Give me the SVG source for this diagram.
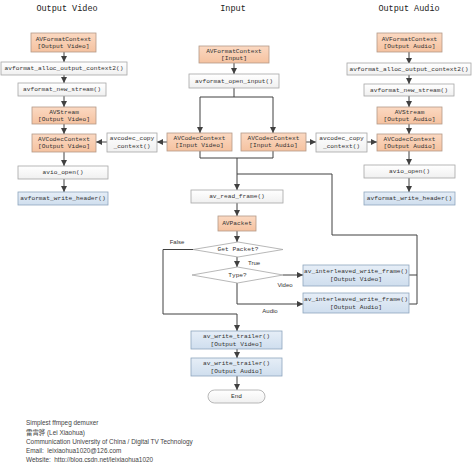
<svg xmlns="http://www.w3.org/2000/svg" width="474" height="462" viewBox="0 0 474 462">
<defs>
<marker id="ah" markerUnits="userSpaceOnUse" markerWidth="6" markerHeight="6" viewBox="0 0 6 6" refX="6" refY="3" orient="auto">
<path d="M0,0 L6,3 L0,6 z" fill="#404040"/>
</marker>
<linearGradient id="gO" x1="0" y1="0" x2="0" y2="1"><stop offset="0" stop-color="#fbd9c2"/><stop offset="1" stop-color="#f5c2a0"/></linearGradient>
<linearGradient id="gW" x1="0" y1="0" x2="0" y2="1"><stop offset="0" stop-color="#ffffff"/><stop offset="1" stop-color="#f0f0f0"/></linearGradient>
<linearGradient id="gB" x1="0" y1="0" x2="0" y2="1"><stop offset="0" stop-color="#e6eef7"/><stop offset="1" stop-color="#cfdeee"/></linearGradient>
</defs>
<style>
.o{fill:url(#gO);stroke:#b39a88;stroke-width:0.8}
.w{fill:url(#gW);stroke:#a6a6a6;stroke-width:0.8}
.b{fill:url(#gB);stroke:#8ea5bd;stroke-width:0.8}
.t{font-family:"Liberation Mono",monospace;font-size:6.2px;fill:#333;text-anchor:middle;dominant-baseline:central}
.h{font-family:"Liberation Mono",monospace;font-size:8.5px;fill:#222;text-anchor:middle}
.l{font-family:"Liberation Sans",sans-serif;font-size:6px;fill:#333;text-anchor:middle}
.f{font-family:"Liberation Sans","Noto Sans CJK SC",sans-serif;font-size:6.4px;fill:#444;white-space:pre}
.c{fill:none;stroke:#404040;stroke-width:1}
.a{fill:none;stroke:#404040;stroke-width:1;marker-end:url(#ah)}
</style>
<rect width="474" height="462" fill="#ffffff"/>
<g id="titles">
<text class="h" x="67" y="11">Output Video</text>
<text class="h" x="233" y="11">Input</text>
<text class="h" x="409" y="11">Output Audio</text>
</g>
<g id="connectors">
<path class="a" d="M64,52 V62"/>
<path class="a" d="M64,75 V83"/>
<path class="a" d="M64,96 V107"/>
<path class="a" d="M64,124 V134"/>
<path class="a" d="M64,152 V166"/>
<path class="a" d="M64,179 V192"/>
<path class="a" d="M409,52 V64"/>
<path class="a" d="M409,75 V84"/>
<path class="a" d="M409,96 V107"/>
<path class="a" d="M409,124 V134"/>
<path class="a" d="M409,151 V165"/>
<path class="a" d="M409,178 V192"/>
<path class="a" d="M234,63 V74"/>
<path class="c" d="M234,88 V97 M200,97 H273"/>
<path class="a" d="M200,97 V133"/>
<path class="a" d="M273,97 V133"/>
<path class="a" d="M167,142 H157"/>
<path class="a" d="M107,142 H96"/>
<path class="a" d="M306,142 H316"/>
<path class="a" d="M367,142 H377"/>
<path class="c" d="M200,151 V158 H273 V151"/>
<path class="a" d="M237,158 V190"/>
<path class="a" d="M237,203 V216"/>
<path class="a" d="M237,231 V242"/>
<path class="a" d="M237,257 V267"/>
<path class="a" d="M283,275 H303"/>
<path class="a" d="M237,283 V304 H303"/>
<path class="c" d="M409,275 H417 M409,304 H417 V235 H332 V174 H237"/>
<path class="a" d="M193,249.5 H163 V314 H237 V331"/>
<path class="a" d="M237,349 V358"/>
<path class="a" d="M237,376 V390"/>
</g>
<g id="n_fmt_ov"><rect class="o" x="31" y="33" width="65" height="19"/><text class="t" x="63.5" y="39">AVFormatContext</text><text class="t" x="63.5" y="46.5">[Output Video]</text></g>
<g id="n_alloc_ov"><rect class="w" x="1" y="62" width="126" height="13"/><text class="t" x="64" y="68.5">avformat_alloc_output_context2()</text></g>
<g id="n_new_ov"><rect class="w" x="18" y="83" width="88" height="13"/><text class="t" x="62" y="89.5">avformat_new_stream()</text></g>
<g id="n_stream_ov"><rect class="o" x="32" y="107" width="64" height="17"/><text class="t" x="64" y="112">AVStream</text><text class="t" x="64" y="119.5">[Output Video]</text></g>
<g id="n_codec_ov"><rect class="o" x="32" y="134" width="64" height="18"/><text class="t" x="64" y="139">AVCodecContext</text><text class="t" x="64" y="146.5">[Output Video]</text></g>
<g id="n_copy_v"><rect class="w" x="107" y="133" width="50" height="19"/><text class="t" x="132" y="138.5">avcodec_copy</text><text class="t" x="132" y="146.5">_context()</text></g>
<g id="n_avio_ov"><rect class="w" x="18" y="166" width="90" height="13"/><text class="t" x="63" y="172.5">avio_open()</text></g>
<g id="n_hdr_ov"><rect class="b" x="18" y="192" width="90" height="13"/><text class="t" x="63" y="198.5">avformat_write_header()</text></g>
<g id="n_fmt_in"><rect class="o" x="199" y="46" width="70" height="17"/><text class="t" x="234" y="51">AVFormatContext</text><text class="t" x="234" y="58.5">[Input]</text></g>
<g id="n_open_in"><rect class="w" x="189" y="74" width="90" height="14"/><text class="t" x="234" y="81">avformat_open_input()</text></g>
<g id="n_codec_iv"><rect class="o" x="167" y="133" width="65" height="18"/><text class="t" x="199.5" y="138">AVCodecContext</text><text class="t" x="199.5" y="145.5">[Input Video]</text></g>
<g id="n_codec_ia"><rect class="o" x="241" y="133" width="65" height="18"/><text class="t" x="273.5" y="138">AVCodecContext</text><text class="t" x="273.5" y="145.5">[Input Audio]</text></g>
<g id="n_fmt_oa"><rect class="o" x="377" y="33" width="65" height="19"/><text class="t" x="409.5" y="39">AVFormatContext</text><text class="t" x="409.5" y="46.5">[Output Audio]</text></g>
<g id="n_alloc_oa"><rect class="w" x="347" y="63" width="124" height="12"/><text class="t" x="409" y="69">avformat_alloc_output_context2()</text></g>
<g id="n_new_oa"><rect class="w" x="364" y="84" width="90" height="12"/><text class="t" x="409" y="90">avformat_new_stream()</text></g>
<g id="n_stream_oa"><rect class="o" x="377" y="107" width="65" height="17"/><text class="t" x="409.5" y="112">AVStream</text><text class="t" x="409.5" y="119.5">[Output Audio]</text></g>
<g id="n_codec_oa"><rect class="o" x="377" y="134" width="65" height="17"/><text class="t" x="409.5" y="139">AVCodecContext</text><text class="t" x="409.5" y="146.5">[Output Audio]</text></g>
<g id="n_copy_a"><rect class="w" x="316" y="133" width="51" height="19"/><text class="t" x="341.5" y="138.5">avcodec_copy</text><text class="t" x="341.5" y="146.5">_context()</text></g>
<g id="n_avio_oa"><rect class="w" x="364" y="165" width="91" height="13"/><text class="t" x="409.5" y="171.5">avio_open()</text></g>
<g id="n_hdr_oa"><rect class="b" x="364" y="192" width="91" height="13"/><text class="t" x="409.5" y="198.5">avformat_write_header()</text></g>
<g id="n_read"><rect class="w" x="191" y="190" width="92" height="13"/><text class="t" x="237" y="196.5">av_read_frame()</text></g>
<g id="n_packet"><rect class="o" x="218" y="216" width="38" height="15"/><text class="t" x="237" y="223.5">AVPacket</text></g>
<g id="n_get"><path d="M193,249.5 L238,242 L283,249.5 L238,257 z" fill="#ffffff" stroke="#a6a6a6" stroke-width="0.8"/><text class="t" x="238" y="249.5">Get Packet?</text></g>
<g id="n_type"><path d="M192,275 L237.5,267 L283,275 L237.5,283 z" fill="#ffffff" stroke="#a6a6a6" stroke-width="0.8"/><text class="t" x="237.5" y="275">Type?</text></g>
<g id="n_iw_v"><rect class="b" x="303" y="265" width="106" height="21"/><text class="t" x="356" y="271">av_interleaved_write_frame()</text><text class="t" x="356" y="279.5">[Output Video]</text></g>
<g id="n_iw_a"><rect class="b" x="303" y="293" width="106" height="20"/><text class="t" x="356" y="299">av_interleaved_write_frame()</text><text class="t" x="356" y="307.5">[Output Audio]</text></g>
<g id="n_tr_v"><rect class="b" x="191" y="331" width="91" height="18"/><text class="t" x="236.5" y="336">av_write_trailer()</text><text class="t" x="236.5" y="344">[Output Video]</text></g>
<g id="n_tr_a"><rect class="b" x="191" y="358" width="91" height="18"/><text class="t" x="236.5" y="363">av_write_trailer()</text><text class="t" x="236.5" y="371">[Output Audio]</text></g>
<g id="n_end"><rect x="208" y="390" width="57" height="13" rx="6.5" fill="url(#gW)" stroke="#a6a6a6" stroke-width="0.8"/><text class="t" x="236.5" y="396.5">End</text></g>
<g id="labels">
<text class="l" x="177" y="244">False</text>
<text class="l" x="254" y="265">True</text>
<text class="l" x="285" y="287">Video</text>
<text class="l" x="270" y="313">Audio</text>
</g>
<g id="footer">
<text class="f" x="26" y="425">Simplest ffmpeg demuxer</text>
<text class="f" x="26" y="434.5">雷霄骅 (Lei Xiaohua)</text>
<text class="f" x="26" y="444">Communication University of China / Digital TV Technology</text>
<text class="f" x="26" y="453" xml:space="preserve">Email:  leixiaohua1020@126.com</text>
<text class="f" x="26" y="461.5" xml:space="preserve">Website:  http://blog.csdn.net/leixiaohua1020</text>
</g>
</svg>
